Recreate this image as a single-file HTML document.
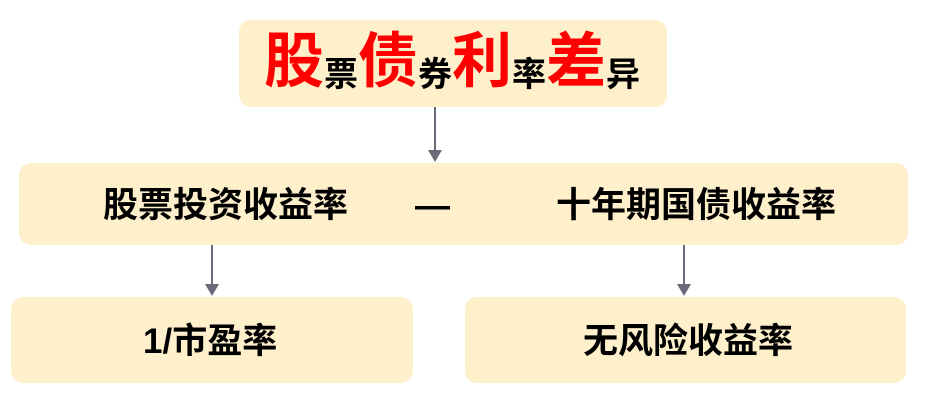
<!DOCTYPE html>
<html><head><meta charset="utf-8"><style>
body{margin:0;width:931px;height:407px;background:#fff;position:relative;overflow:hidden;font-family:"Liberation Sans","Noto Sans CJK SC",sans-serif;font-weight:bold}
.b{position:absolute;background:#fff0cc;border-radius:12px}
.t{position:absolute;white-space:nowrap;font-size:35px;color:#000;line-height:1}
.r{color:#f00;font-size:60px}
.s{font-size:34px}
</style></head><body>
<div class="b" style="left:239px;top:20px;width:428px;height:87px"></div>
<div class="b" style="left:19px;top:163px;width:889px;height:82px"></div>
<div class="b" style="left:11px;top:297px;width:402px;height:86px"></div>
<div class="b" style="left:465px;top:297px;width:441px;height:86px"></div>
<div class="t" style="left:264px;top:30px;height:62px;display:flex;align-items:flex-end;line-height:1"><span class="r">股</span><span class="s">票</span><span class="r">债</span><span class="s">券</span><span class="r">利</span><span class="s">率</span><span class="r">差</span><span class="s">异</span></div>
<div class="t" style="left:103px;top:188px">股票投资收益率</div>
<div class="t" style="left:415px;top:188px">—</div>
<div class="t" style="left:556px;top:188px">十年期国债收益率</div>
<div class="t" style="left:143px;top:324px">1/市盈率</div>
<div class="t" style="left:583px;top:324px">无风险收益率</div>
<svg width="931" height="407" style="position:absolute;left:0;top:0">
<g stroke="#6b6a7a" stroke-width="2" fill="#6b6a7a">
<line x1="435" y1="107" x2="435" y2="152"/><polygon points="428,150 442,150 435,162" stroke="none"/>
<line x1="212" y1="245" x2="212" y2="286"/><polygon points="205,284 219,284 212,296" stroke="none"/>
<line x1="684" y1="245" x2="684" y2="286"/><polygon points="677,284 691,284 684,296" stroke="none"/>
</g></svg>
</body></html>
